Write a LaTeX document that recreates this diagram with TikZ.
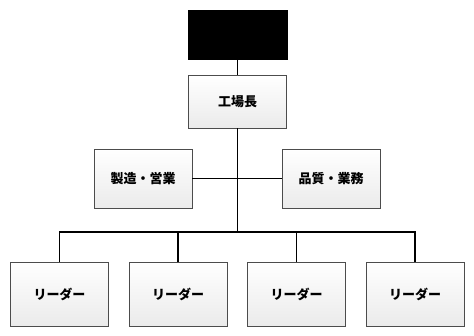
\documentclass[tikz,border=0pt]{standalone}
\usepackage{fontspec}
\newfontfamily\cjk{Noto Sans CJK JP}
\begin{document}
\begin{tikzpicture}[x=1pt,y=-1pt,
  box/.style={draw=black!70, line width=0.8pt, top color=white, bottom color=black!8, minimum width=98pt, inner sep=0pt, font=\cjk\bfseries\fontsize{13}{15}\selectfont},
  conn/.style={line width=1.2pt, black}]
\useasboundingbox (0,0) rectangle (474,335);
\node[draw=black, fill=black, minimum width=99pt, minimum height=49pt, inner sep=0pt] (top) at (237.5,34.5) {};
\node[box, minimum height=53pt] (kj) at (237.5,101.5) {工場長};
\node[box, minimum height=59pt] (mfg) at (143,178.5) {製造・営業};
\node[box, minimum height=59pt] (qa) at (331,178.5) {品質・業務};
\node[box, minimum height=64pt] (l1) at (59.5,294) {リーダー};
\node[box, minimum height=64pt] (l2) at (178,294) {リーダー};
\node[box, minimum height=64pt] (l3) at (296.5,294) {リーダー};
\node[box, minimum height=64pt] (l4) at (415,294) {リーダー};
\coordinate (bus) at (237.5,232);
\coordinate (mid) at (237.5,178.5);
\draw[conn] (top) -- (kj);
\draw[conn] (kj) -- (bus);
\draw[conn] (mfg) -- (qa);
\draw[conn] (l1.north) |- (bus) -| (l4.north);
\draw[conn] (l2.north) -- (l2.north |- bus);
\draw[conn] (l3.north) -- (l3.north |- bus);
\end{tikzpicture}
\end{document}
